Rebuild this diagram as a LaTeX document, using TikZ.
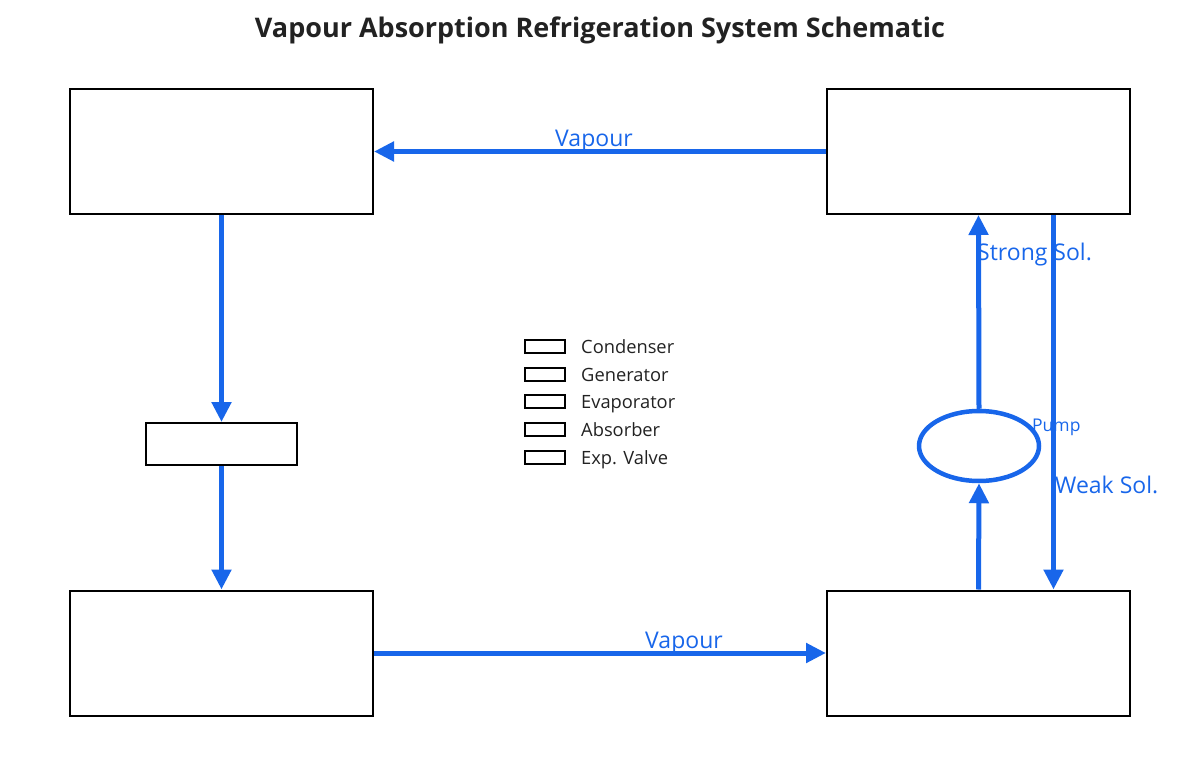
\documentclass[tikz,border=0pt]{standalone}
\usepackage{fontspec}
\setmainfont{Open Sans}
\usetikzlibrary{arrows.meta,calc,shapes.geometric}
\definecolor{flowblue}{RGB}{24,102,234}
\definecolor{titlegray}{RGB}{34,34,34}
\begin{document}
\begin{tikzpicture}[x=1pt,y=-1pt,
  unit/.style={draw=black,line width=2pt,rectangle,inner sep=0pt,minimum width=303pt,minimum height=125pt},
  valvebox/.style={draw=black,line width=2pt,rectangle,inner sep=0pt,minimum width=151pt,minimum height=42pt},
  pumpshape/.style={draw=flowblue,line width=4.5pt,ellipse,inner sep=0pt,minimum width=120pt,minimum height=70pt},
  flow/.style={draw=flowblue,line width=5pt,-{Triangle[length=20pt,width=19pt]}},
  flowlabel/.style={text=flowblue,font=\fontsize{23}{26}\selectfont,inner sep=0pt},
  legbox/.style={draw=black,line width=2pt,rectangle,inner sep=0pt,minimum width=40pt,minimum height=13pt},
  legtext/.style={anchor=base west,inner sep=0pt,font=\fontsize{18.3}{21}\selectfont,text=titlegray}]
\useasboundingbox (0,0) rectangle (1200,765);
\node[font=\bfseries\fontsize{27}{32}\selectfont,text=titlegray] (title) at (600,30) {Vapour Absorption Refrigeration System Schematic};

\node[unit] (cond) at (221.5,151.5) {};
\node[unit] (gen) at (978.5,151.5) {};
\node[unit] (evap) at (221.5,653) {};
\node[unit] (abs) at (978.5,653) {};
\node[valvebox] (valve) at (221.5,444) {};
\node[pumpshape] (pump) at (979,446) {};

\draw[flow] (gen.west) -- (cond.east);
\draw[flow] (cond.south) -- (valve.north);
\draw[flow] (valve.south) -- (evap.north);
\draw[flow] (evap.east) -- (abs.west);
\draw[flow] (abs.north) -- (pump.south);
\draw[flow] (pump.north) -- (gen.south);
\draw[flow] ([xshift=75pt]gen.south) -- ([xshift=75pt]abs.north);

\node[flowlabel,anchor=base] (lv1) at (594,147) {Vapour};
\node[flowlabel,anchor=base] (lv2) at (684,648) {Vapour};
\node[flowlabel,anchor=base west] (lss) at (977,260) {Strong Sol.};
\node[flowlabel,anchor=base west] (lws) at (1055,493) {Weak Sol.};
\node[flowlabel,anchor=base west,font=\fontsize{17.5}{20}\selectfont] (lp) at (1032,431) {Pump};

\node[legbox] (k1) at (545,346) {};
\node[legtext] (t1) at (581,353) {Condenser};
\node[legbox] (k2) at (545,374) {};
\node[legtext] (t2) at (581,381) {Generator};
\node[legbox] (k3) at (545,401) {};
\node[legtext] (t3) at (581,408) {Evaporator};
\node[legbox] (k4) at (545,429) {};
\node[legtext] (t4) at (581,436) {Absorber};
\node[legbox] (k5) at (545,457) {};
\node[legtext] (t5) at (581,464) {Exp. Valve};
\end{tikzpicture}
\end{document}
